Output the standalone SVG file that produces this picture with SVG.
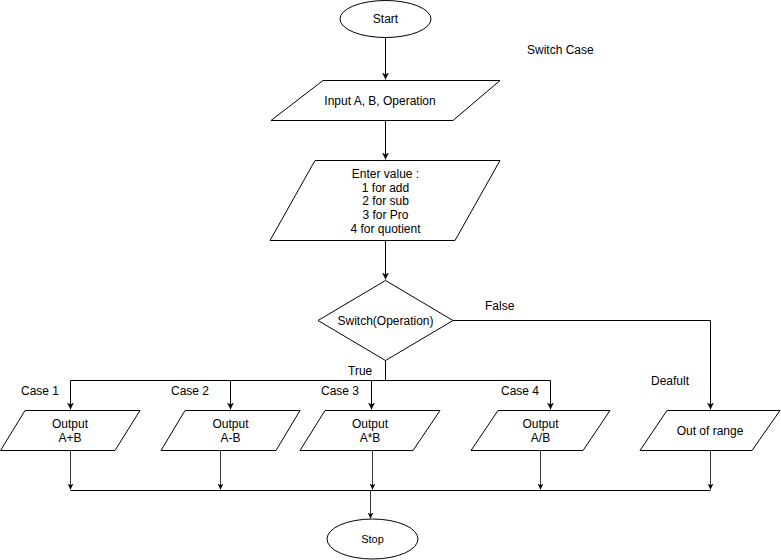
<svg xmlns="http://www.w3.org/2000/svg" width="781" height="560" viewBox="0 0 781 560">
<style>
.s{fill:#fff;stroke:#000;stroke-width:1}
.t{font-family:"Liberation Sans",Arial,sans-serif;font-size:12px;fill:#000;text-anchor:middle}
.l{font-family:"Liberation Sans",Arial,sans-serif;font-size:12px;fill:#000}
.c{fill:none;stroke:#000;stroke-width:1}
.c2{fill:none;stroke:#000;stroke-width:0.8}
</style>
<defs>
<marker id="a" viewBox="0 0 10 10" refX="10" refY="5" markerWidth="7" markerHeight="7" markerUnits="userSpaceOnUse" orient="auto">
<path d="M0,0 L10,5 L0,10 L3,5 Z" fill="#000"/>
</marker>
<marker id="b" viewBox="0 0 10 10" refX="10" refY="5" markerWidth="6" markerHeight="6" markerUnits="userSpaceOnUse" orient="auto">
<path d="M0,0 L10,5 L0,10 L3,5 Z" fill="#000"/>
</marker>
</defs>
<g id="connectors">
<path class="c" d="M385.5,37.5 V79.5" marker-end="url(#a)"/>
<path class="c" d="M385.5,120 V159.5" marker-end="url(#a)"/>
<path class="c" d="M385.5,240 V279.5" marker-end="url(#a)"/>
<path class="c" d="M385.5,360 V380.5 H70.5 V409.5" marker-end="url(#a)"/>
<path class="c" d="M230.5,380.5 V409.5" marker-end="url(#a)"/>
<path class="c" d="M371.5,380.5 V409.5" marker-end="url(#a)"/>
<path class="c" d="M385.5,380.5 H550.5 V409.5" marker-end="url(#a)"/>
<path class="c" d="M453,320.5 H710.5 V409.5" marker-end="url(#a)"/>
<path class="c2" d="M70.5,450 V489.5" marker-end="url(#b)"/>
<path class="c2" d="M220.5,450 V489.5" marker-end="url(#b)"/>
<path class="c2" d="M372.5,450 V489.5" marker-end="url(#b)"/>
<path class="c2" d="M540.5,450 V489.5" marker-end="url(#b)"/>
<path class="c2" d="M710.5,450 V489.5" marker-end="url(#b)"/>
<path class="c" d="M70.5,490.5 H710.5"/>
<path class="c2" d="M370.5,490.5 V518.5" marker-end="url(#b)"/>
</g>
<g id="start">
<ellipse class="s" cx="385.5" cy="19" rx="45.5" ry="18.5"/>
<text class="t" x="385.5" y="23">Start</text>
</g>
<g id="title">
<text class="l" x="527" y="54">Switch Case</text>
</g>
<g id="input">
<polygon class="s" points="323,80.5 500,80.5 453,120.5 271,120.5"/>
<text class="t" x="380" y="104.5">Input A, B, Operation</text>
</g>
<g id="enter">
<polygon class="s" points="315,160.5 500,160.5 455,240.5 270,240.5"/>
<text class="t" x="385.5" y="177.5">Enter value :</text>
<text class="t" x="385.5" y="191.5">1 for add</text>
<text class="t" x="385.5" y="205">2 for sub</text>
<text class="t" x="385.5" y="219">3 for Pro</text>
<text class="t" x="385.5" y="233">4 for quotient</text>
</g>
<g id="switch">
<polygon class="s" points="385.5,280.5 453,320.5 385.5,360.5 318,320.5"/>
<text class="t" x="385.5" y="325">Switch(Operation)</text>
</g>
<g id="labels">
<text class="l" x="348" y="375">True</text>
<text class="l" x="485" y="310">False</text>
<text class="l" x="21" y="395">Case 1</text>
<text class="l" x="171" y="395">Case 2</text>
<text class="l" x="321" y="395">Case 3</text>
<text class="l" x="501" y="395">Case 4</text>
<text class="l" x="651" y="385">Deafult</text>
</g>
<g id="case1">
<polygon class="s" points="25,410.5 140,410.5 115,450.5 0.5,450.5"/>
<text class="t" x="70" y="428">Output</text>
<text class="t" x="70" y="442">A+B</text>
</g>
<g id="case2">
<polygon class="s" points="185,410.5 300,410.5 276,450.5 161,450.5"/>
<text class="t" x="230.5" y="428">Output</text>
<text class="t" x="230.5" y="442">A-B</text>
</g>
<g id="case3">
<polygon class="s" points="325,410.5 440,410.5 413,450.5 300,450.5"/>
<text class="t" x="370" y="428">Output</text>
<text class="t" x="370" y="442">A*B</text>
</g>
<g id="case4">
<polygon class="s" points="498,410.5 610,410.5 583,450.5 471,450.5"/>
<text class="t" x="540.5" y="428">Output</text>
<text class="t" x="540.5" y="442">A/B</text>
</g>
<g id="default">
<polygon class="s" points="667,410.5 780,410.5 752,450.5 640,450.5"/>
<text class="t" x="710" y="435">Out of range</text>
</g>
<g id="stop">
<ellipse class="s" cx="372.5" cy="539" rx="45.5" ry="20"/>
<text class="t" x="372.5" y="543" style="font-size:11px">Stop</text>
</g>
</svg>
